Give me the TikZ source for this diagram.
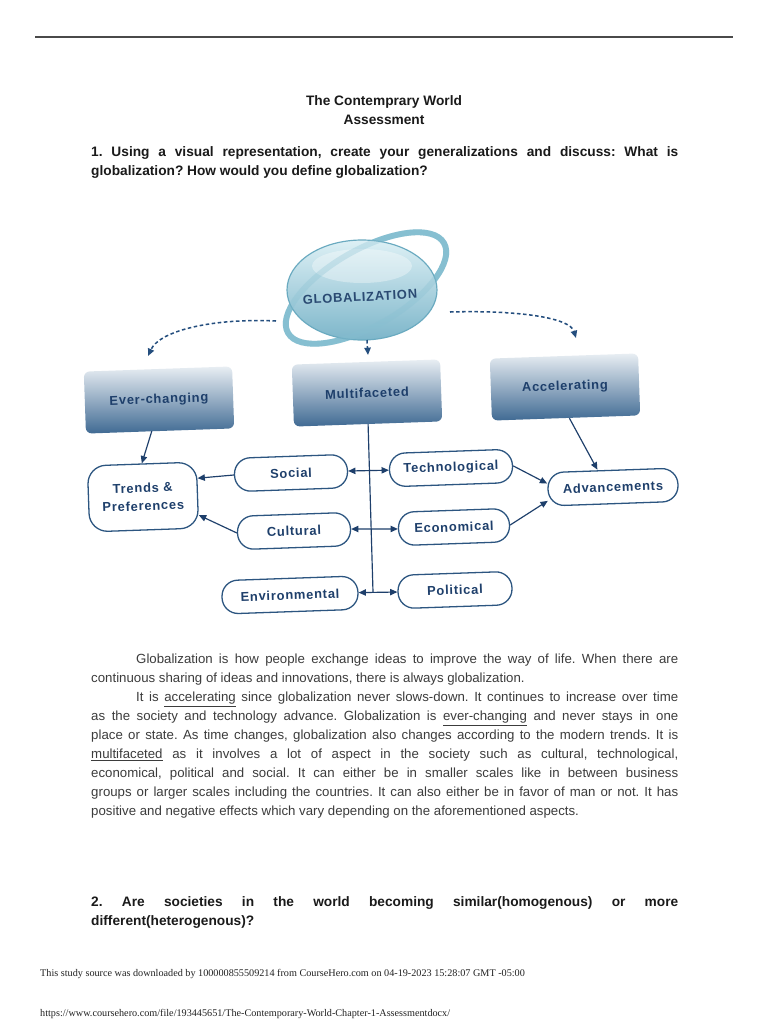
\documentclass[tikz,border=0pt]{standalone}
\usepackage{fontspec}
\setmainfont{Liberation Sans}
\newfontfamily\footfont{Liberation Serif}
\newfontfamily\diagfont[LetterSpace=6]{Liberation Sans}
\usetikzlibrary{arrows.meta,positioning,calc,shapes.geometric}
\frenchspacing
\definecolor{Ink}{HTML}{1E3F6B}
\definecolor{HeadInk}{HTML}{1A1A1A}
\definecolor{BodyInk}{HTML}{3C3C3C}
\definecolor{FootInk}{HTML}{222222}
\definecolor{RuleGray}{HTML}{4A4A4A}
\definecolor{BoxTop}{HTML}{E8EEF3}
\definecolor{BoxBottom}{HTML}{406A93}
\definecolor{PillLine}{HTML}{2C5580}
\definecolor{DashInk}{HTML}{244E7E}
\definecolor{GlobeTop}{HTML}{DDF0F5}
\definecolor{GlobeBottom}{HTML}{7DB6CA}
\definecolor{GlobeLine}{HTML}{6AAAC0}
\definecolor{GlobeInk}{HTML}{2A4A72}
\definecolor{RingBlue}{HTML}{86BFD1}
\tikzset{heading/.style={inner sep=0pt,text=HeadInk,font=\bfseries\fontsize{11.7}{16.16}\selectfont},
  bodytext/.style={inner sep=0pt,text=BodyInk,font=\fontsize{11.3}{16.16}\selectfont,
    text width=17.61cm,align=justify,anchor=north west},
  foottext/.style={inner sep=0pt,text=FootInk,font=\footfont\fontsize{8.7}{10}\selectfont,anchor=base west},
  topic/.style={rounded corners=5pt,top color=BoxTop,bottom color=BoxBottom,minimum width=4.45cm,
    minimum height=1.86cm,font=\diagfont\bfseries\fontsize{11}{13}\selectfont,text=Ink,rotate=2},
  pill/.style={draw=PillLine,line width=1.1pt,fill=white,rounded corners=0.48cm,minimum height=1cm,
    inner sep=2pt,align=center,font=\diagfont\bfseries\fontsize{11}{13}\selectfont,text=Ink,rotate=2},
  link/.style={-{Triangle[length=2.2mm,width=1.9mm]},line width=1pt,draw=Ink},
  twoway/.style={link,{Triangle[length=2.2mm,width=1.9mm]}-{Triangle[length=2.2mm,width=1.9mm]}},
  dashlink/.style={link,draw=DashInk,line width=1.3pt,dash pattern=on 3pt off 2.2pt},
  globebody/.style={top color=GlobeTop,bottom color=GlobeBottom,draw=GlobeLine,line width=1pt},
  globelabel/.style={inner sep=0pt,text=GlobeInk,font=\diagfont\bfseries\fontsize{11}{13}\selectfont,rotate=3},
  ring/.style={draw=RingBlue,line width=5pt},
  pagerule/.style={draw=RuleGray,line width=1.2pt}}

\begin{document}
\begin{tikzpicture}[x=0.03cm,y=-0.03cm]
    \useasboundingbox (0,0) rectangle (768,1024);
    \fill[white] (0,0) rectangle (768,1024);
    \draw[pagerule] (35,37) -- (733,37);
    \node[heading,align=center] (title) at (384,110) {The Contemprary World\\Assessment};
    \node[heading,text width=17.61cm,align=justify,anchor=north west] (qone) at (91,146)
      {1. Using a visual representation, create your generalizations and discuss: What is\linebreak
       globalization? How would you define globalization?};

    \coordinate (globecenter) at (362,290);
    \coordinate (globebottom) at (367,340);
    \draw[ring] (366,288) ellipse [x radius=90,y radius=38,rotate=30];
    \path[globebody] (globecenter) ellipse [x radius=75,y radius=50];
    \fill[white,opacity=0.35] (362,266) ellipse [x radius=50,y radius=17];
    \draw[ring,opacity=0.3] (366,288) ellipse [x radius=90,y radius=38,rotate=30];
    \node[globelabel] (globe) at (360,297) {GLOBALIZATION};

    \node[topic] (ever) at (159,400) {Ever-changing};
    \node[topic] (multi) at (367,393) {Multifaceted};
    \node[topic] (accel) at (565,387) {Accelerating};

    \node[pill,minimum width=3.27cm,minimum height=1.98cm,rounded corners=0.55cm,
      font=\diagfont\bfseries\fontsize{11}{15.3}\selectfont] (trends) at (143,497) {Trends \&\\Preferences};
    \node[pill,minimum width=3.39cm] (social) at (291,473) {Social};
    \node[pill,minimum width=3.39cm] (cultural) at (294,531) {Cultural};
    \node[pill,minimum width=4.08cm] (env) at (290,595) {Environmental};
    \node[pill,minimum width=3.69cm] (tech) at (451,468) {Technological};
    \node[pill,minimum width=3.33cm] (econ) at (454,527) {Economical};
    \node[pill,minimum width=3.42cm] (politic) at (455,590) {Political};
    \node[pill,minimum width=3.9cm] (adv) at (613,487) {Advancements};

    \coordinate (dashLfrom) at (276,321);
    \coordinate (dashLto) at (148,356);
    \coordinate (dashRfrom) at (450,312);
    \coordinate (dashRto) at (576,338);
    \coordinate (dashMto) at (368,355);
    \coordinate (trunkend) at (373,592);
    \draw[dashlink] (dashLfrom) .. controls (215,318) and (160,330) .. (dashLto);
    \draw[dashlink] (dashRfrom) .. controls (520,310) and (570,318) .. (dashRto);
    \draw[dashlink] (globebottom) -- (dashMto);

    \draw[link] ([xshift=-0.25cm]ever.south) -- (trends.north);
    \draw[link] (social.west) -- (trends.17);
    \draw[link] (cultural.west) -- (trends.-20);
    \draw[link] ([xshift=0.1cm]accel.south) -- ([xshift=-0.45cm]adv.north);
    \draw[link] (tech.east) -- (adv.175);
    \draw[link] (econ.east) -- (adv.190);
    \draw[line width=1pt,draw=Ink] (multi.south) -- (trunkend);
    \draw[twoway] (social.east) -- (tech.west);
    \draw[twoway] (cultural.east) -- (econ.west);
    \draw[twoway] (env.east) -- (politic.west);

    \node[bodytext] (para) at (91,654)
      {\noindent\hspace*{1.35cm}Globalization is how people exchange ideas to improve the way of life. When there are\linebreak
       continuous sharing of ideas and innovations, there is always globalization.\par
       \noindent\hspace*{1.35cm}It is \underline{accelerating} since globalization never slows-down. It continues to increase over time\linebreak
       as the society and technology advance. Globalization is \underline{ever-changing} and never stays in one\linebreak
       place or state. As time changes, globalization also changes according to the modern trends. It is\linebreak
       \underline{multifaceted} as it involves a lot of aspect in the society such as cultural, technological,\linebreak
       economical, political and social. It can either be in smaller scales like in between business\linebreak
       groups or larger scales including the countries. It can also either be in favor of man or not. It has\linebreak
       positive and negative effects which vary depending on the aforementioned aspects.};

    \node[heading,text width=17.61cm,align=justify,anchor=north west] (qtwo) at (91,896)
      {2. Are societies in the world becoming similar(homogenous) or more\linebreak
       different(heterogenous)?};

    \node[foottext] (source) at (40,976)
      {This study source was downloaded by 100000855509214 from CourseHero.com on 04-19-2023 15:28:07 GMT -05:00};
    \node[foottext] (link) at (40,1016)
      {https://www.coursehero.com/file/193445651/The-Contemporary-World-Chapter-1-Assessmentdocx/};
  \end{tikzpicture}
\end{document}
